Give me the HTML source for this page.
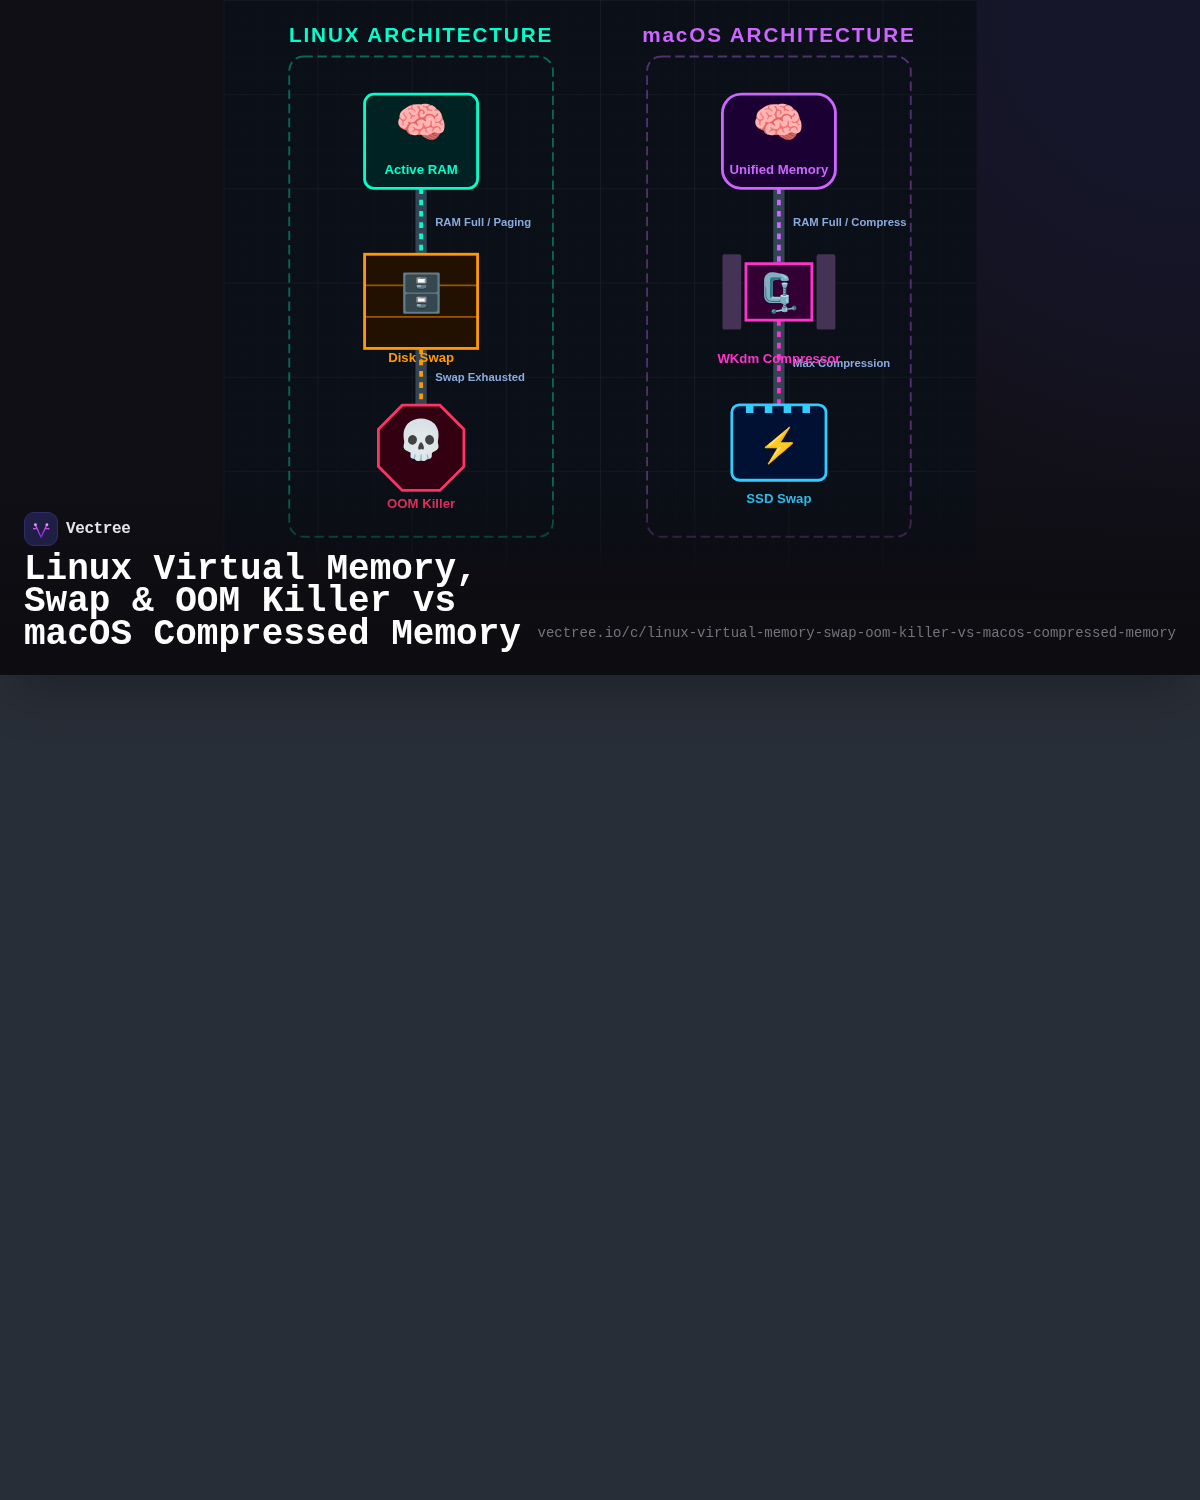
<!DOCTYPE html>
<html lang="en">
<head>
<meta charset="utf-8">
<title>Linux Virtual Memory, Swap &amp; OOM Killer vs macOS Compressed Memory</title>
<style>
html,body{margin:0;padding:0;}
body{width:1200px;height:1500px;background:#282e37;overflow:hidden;font-family:"Liberation Mono",monospace;}
.card{position:absolute;left:0;top:0;width:1200px;height:675px;overflow:hidden;background:#100f15;
  box-shadow:0 25px 50px -12px rgba(0,0,0,.25);}
.glow{position:absolute;inset:0;background:radial-gradient(circle 620px at 100% 0%,#16162a 0%,#16162a 26%,#151527 40%,#151425 50%,#13121e 66%,#111018 82%,#100f15 100%);}
.art{will-change:transform;position:absolute;left:223px;top:0;width:755px;height:565px;display:block;}
.fade{position:absolute;left:0;right:0;top:488px;height:187px;
  background:linear-gradient(to bottom,rgba(14,13,18,0) 0%,#0e0d12 60%,#0d0c11 100%);}
.brand{position:absolute;left:24px;top:512px;height:34px;display:flex;align-items:center;}
.logo{width:32px;height:32px;border-radius:10px;background:#1f1e45;border:1px solid #2e2d6c;position:relative;}
.logo svg{position:absolute;left:-1px;top:-1px;width:34px;height:34px;}
.brand span{margin-left:8px;font-weight:bold;font-size:16px;letter-spacing:-0.4px;color:#e4e4e7;}
h1{position:absolute;left:24px;top:554px;margin:0;font-size:36px;line-height:32.4px;font-weight:bold;color:#fff;white-space:nowrap;}
.url{position:absolute;right:24px;top:625px;font-size:14px;line-height:16px;color:#737379;white-space:nowrap;}
svg text{font-family:"Liberation Sans",sans-serif;font-weight:bold;}
</style>
</head>
<body>
<div class="card">
  <div class="glow"></div>
  <svg class="art" viewBox="-0.354 0 801.77 600" preserveAspectRatio="xMinYMin meet">
    <defs>
      <pattern id="sg" width="20" height="20" patternUnits="userSpaceOnUse"><path d="M20 0H0V20" fill="none" stroke="#10151f" stroke-width="0.6"/></pattern>
      <pattern id="bg" width="100" height="100" patternUnits="userSpaceOnUse"><rect width="100" height="100" fill="url(#sg)"/><path d="M100 0H0V100" fill="none" stroke="#1b212c" stroke-width="1.1"/></pattern>
<g id="e-brain"><path d="M614,-109 Q614,-109 633,-116 Q652,-123 677,-132.5 Q702,-142 721.5,-149 Q741,-156 742,-156 Q743,-156 764,-161 Q785,-166 816,-173.5 Q847,-181 877.5,-188.5 Q908,-196 928.5,-201 Q949,-206 949,-206 L1072,-162 Q1072,-162 1074.5,-147.5 Q1077,-133 1079,-115 Q1081,-97 1079,-86 Q1077,-76 1069.5,-56 Q1062,-36 1042,-10 Q1022,16 985,44 Q960,62 926,66 Q892,70 855,64 Q818,58 785,46 Q752,34 729,21 Q680,-7 655.5,-37 Q631,-67 622.5,-88 Q614,-109 614,-109 Z" fill="#E06767"/><path d="M1072,-62 Q1072,-62 1056.5,-63 Q1041,-64 1017,-70 Q994,-75 978,-82 Q962,-89 946,-84 Q931,-79 936.5,-70 Q942,-61 945,-59 Q957,-52 970.5,-47.5 Q984,-43 998,-40 Q1030,-33 1042.5,-30.5 Q1055,-28 1055,-28 Q1055,-28 1050,-21.5 Q1045,-15 1042,-11 Q1013,-14 984,-21 Q955,-28 930,-41 Q901,-55 874.5,-71 Q848,-87 826,-84 Q813,-82 818.5,-71 Q824,-60 836,-51 Q855,-38 876,-26 Q897,-14 918,-5 Q940,4 962,12 Q984,20 1007,26 Q998,33 989,40 Q989,40 972,34 Q955,28 928.5,18 Q902,8 875,-4 Q852,-15 828.5,-30.5 Q805,-46 786,-56.5 Q767,-67 757,-63 Q747,-58 749.5,-52 Q752,-46 753,-41 Q757,-31 777.5,-17.5 Q798,-4 820.5,7.5 Q843,19 853,24 Q901,46 929.5,52 Q958,58 958,58 Q958,58 940,62 Q922,66 909,67 Q899,67 872,56.5 Q845,46 816,31 Q772,8 751,-11 Q730,-30 716,-36 Q710,-38 704,-38.5 Q698,-39 692,-37 Q680,-31 682.5,-20.5 Q685,-10 685,-10 Q671,-22 653.5,-42.5 Q636,-63 627,-80 Q626,-80 622.5,-87.5 Q619,-95 616,-102 Q613,-109 614,-109 Q614,-109 633,-116 Q652,-123 677,-132.5 Q702,-142 721.5,-149 Q741,-156 742,-156 Q743,-156 764,-161 Q785,-166 816,-173.5 Q847,-181 877.5,-188.5 Q908,-196 928.5,-201 Q949,-206 949,-206 L1056,-168 Q1057,-146 1044,-130 Q1038,-123 1030,-117.5 Q1022,-112 1014,-108 Q1012,-107 1008,-105 Q1025,-98 1043.5,-91.5 Q1062,-85 1078,-80 Q1077,-77 1075.5,-72.5 Q1074,-68 1072,-62 Z" fill="#B05353"/><path d="M1144,-450 Q1144,-450 1154,-436 Q1164,-422 1176,-393 Q1188,-364 1194,-318 Q1198,-284 1196.5,-245 Q1195,-206 1183.5,-171 Q1172,-136 1146.5,-112 Q1121,-88 1078,-84 Q1056,-82 1033,-87 Q1010,-92 990,-102 Q982,-105 974.5,-108.5 Q967,-112 959,-114 Q945,-116 930,-109 Q915,-102 902,-98 Q890,-94 871,-81.5 Q852,-69 820,-57 Q788,-45 739,-44 Q689,-42 661.5,-47 Q634,-52 623,-57.5 Q612,-63 612,-63 Q612,-63 598,-62.5 Q584,-62 567.5,-60.5 Q551,-59 543,-56 Q506,-43 466,-44 Q426,-45 389,-59 Q350,-73 320,-99 Q305,-112 297.5,-130 Q290,-148 282,-166 Q277,-178 270,-178.5 Q263,-179 251,-180 Q189,-187 139,-228 Q105,-255 89.5,-297 Q74,-339 79.5,-383.5 Q85,-428 115,-462 Q115,-462 113.5,-481 Q112,-500 114,-526.5 Q116,-553 126,-574 Q139,-602 159.5,-624 Q180,-646 200,-661 Q220,-676 233.5,-683.5 Q247,-691 247,-691 Q298,-734 352,-756.5 Q406,-779 455.5,-786.5 Q505,-794 544.5,-793 Q584,-792 607.5,-788.5 Q631,-785 631,-785 Q631,-785 647,-791.5 Q663,-798 693.5,-803 Q724,-808 767,-802.5 Q810,-797 864,-773 Q864,-773 883.5,-766 Q903,-759 928,-747.5 Q953,-736 970,-722 Q997,-701 1006,-679 Q1015,-657 1015,-657 Q1015,-657 1029,-653.5 Q1043,-650 1063,-636 Q1083,-622 1101,-593 Q1121,-560 1130,-527 Q1139,-494 1141.5,-472 Q1144,-450 1144,-450 Z" fill="#FFB3B3"/><path d="M296,-271 L311,-284 Q311,-284 311,-276 Q311,-268 311,-260 Q311,-252 311,-250 Q311,-249 309,-236.5 Q307,-224 305,-208.5 Q303,-193 301.5,-181.5 Q300,-170 300,-170 Q300,-170 280.5,-166.5 Q261,-163 233,-170 Q210,-175 184.5,-191 Q159,-207 146,-216 Q143,-219 138.5,-224 Q134,-229 137,-232 Q137,-232 138.5,-234.5 Q140,-237 143,-235 Q153,-230 172,-220.5 Q191,-211 212,-205 Q233,-199 250,-206 Q260,-210 270,-225 Q280,-240 287,-254 Q294,-268 296,-271 Z" fill="#EA6363"/><path d="M630,-54 Q612,-68 608.5,-90.5 Q605,-113 615,-135.5 Q625,-158 647,-173 L514,-166 Q547,-159 556,-151 Q565,-143 566,-130 Q568,-118 565.5,-100 Q563,-82 553,-73 Q543,-64 526.5,-56 Q510,-48 510,-48 Q510,-48 522,-50 Q534,-52 550.5,-54 Q567,-56 582,-57 Q604,-57 617,-55.5 Q630,-54 630,-54 Z" fill="#F07371"/><path d="M1035,-336 Q1062,-340 1087,-356 Q1113,-372 1133,-397.5 Q1153,-423 1150,-456 Q1149,-470 1144.5,-483 Q1140,-496 1133,-508 Q1135,-469 1118.5,-434 Q1102,-399 1069,-378 Q1055,-370 1032.5,-364.5 Q1010,-359 986,-375 Q976,-381 967,-374 Q962,-369 962.5,-361 Q963,-353 969,-349 Q1000,-331 1035,-336 Z" fill="#F07371"/><path d="M1136,-292 Q1145,-292 1154,-295 Q1167,-297 1164.5,-310 Q1162,-323 1149,-322 Q1145,-322 1142,-319.5 Q1139,-317 1134,-317 Q1128,-316 1121.5,-320.5 Q1115,-325 1112,-329 Q1100,-345 1107,-363 Q1109,-367 1111.5,-372 Q1114,-377 1113,-382 Q1106,-384 1098.5,-382.5 Q1091,-381 1084,-379 Q1053,-366 1037,-337 Q1043,-336 1048.5,-338 Q1054,-340 1060,-341 Q1075,-342 1082,-327 Q1086,-319 1091,-312.5 Q1096,-306 1104,-301 Q1112,-296 1120,-294 Q1128,-292 1136,-292 Z" fill="#F07371"/><path d="M971,-640 Q1013,-645 1034.5,-639.5 Q1056,-634 1067,-624 Q1078,-614 1088,-605 Q1088,-605 1084,-615.5 Q1080,-626 1074,-633 Q1068,-640 1058.5,-649 Q1049,-658 1034,-664 Q997,-679 961,-666 Q955,-664 952.5,-658 Q950,-652 953,-646 Q958,-638 971,-640 Z" fill="#F07371"/><path d="M881,-658 Q891,-658 896,-650 Q901,-642 898,-635.5 Q895,-629 881,-630 Q867,-631 868,-631 Q869,-631 874.5,-630.5 Q880,-630 880,-630 Q856,-630 834,-638 Q825,-641 816,-644.5 Q807,-648 798,-639 Q796,-636 793.5,-632.5 Q791,-629 788,-626 Q780,-618 774,-624 Q770,-627 770.5,-632.5 Q771,-638 773,-643 Q779,-664 768,-684 Q758,-705 732.5,-715 Q707,-725 686,-728 Q674,-730 674,-743 Q675,-756 685.5,-756 Q696,-756 708.5,-751 Q721,-746 727,-744 Q736,-741 746.5,-740 Q757,-739 767,-743 Q780,-748 789,-756.5 Q798,-765 812,-769 Q824,-773 837.5,-773.5 Q851,-774 864,-773 Q883,-772 897.5,-764 Q912,-756 921,-748.5 Q930,-741 930,-741 Q916,-743 894,-747 Q872,-751 850,-750.5 Q828,-750 814.5,-740.5 Q801,-731 805,-706 Q808,-678 832,-668 Q856,-658 880,-658 Q880,-658 876,-658 Q872,-658 871.5,-658 Q871,-658 881,-658 Z" fill="#F07371"/><path d="M430,-689 Q441,-679 452.5,-674.5 Q464,-670 475,-660.5 Q486,-651 495,-626 Q498,-617 490,-612 L490,-612 Q480,-605 473,-616 Q458,-643 442.5,-652.5 Q427,-662 407,-667 Q388,-672 365.5,-668.5 Q343,-665 326,-658 Q315,-652 308,-663 L308,-663 Q305,-668 306.5,-674 Q308,-680 314,-683 Q344,-697 380,-695 Q385,-695 388,-698.5 Q391,-702 391,-707 Q387,-725 390.5,-742 Q394,-759 407,-769 Q423,-781 437.5,-783.5 Q452,-786 452,-786 Q430,-771 423,-751 Q416,-731 419,-713.5 Q422,-696 430,-689 Z" fill="#F07371"/><path d="M488,-520 Q492,-507 479,-502 Q470,-499 461.5,-496.5 Q453,-494 444,-494 Q436,-494 429,-494 Q422,-494 415,-487 Q408,-482 407.5,-475.5 Q407,-469 404,-461 Q402,-455 397.5,-448.5 Q393,-442 389,-436 Q384,-432 377.5,-432 Q371,-432 367,-438 L367,-438 Q360,-447 368,-456 Q382,-470 382.5,-489 Q383,-508 377,-523 Q371,-541 359.5,-555.5 Q348,-570 335,-574 Q327,-576 326,-585 L326,-585 Q325,-593 330.5,-597.5 Q336,-602 344,-600 Q361,-594 374,-583.5 Q387,-573 401,-539 Q412,-528 433,-526 Q454,-524 471,-529 Q484,-533 488,-520 Z" fill="#F07371"/><path d="M201,-393 Q228,-393 250.5,-405.5 Q273,-418 281,-439 Q287,-453 284.5,-468 Q282,-483 274,-497 Q268,-507 254.5,-519.5 Q241,-532 231.5,-546 Q222,-560 229,-575 Q230,-578 232,-581 Q234,-584 234,-587 Q236,-598 227,-596.5 Q218,-595 213,-592 Q204,-585 202,-571 Q199,-559 202.5,-545.5 Q206,-532 214,-524 Q223,-515 235,-503 Q247,-491 254,-477 Q261,-463 255,-449 Q250,-435 232,-427 Q214,-419 194,-421 Q186,-422 169.5,-429 Q153,-436 136.5,-459.5 Q120,-483 113,-534 Q113,-534 110,-511 Q107,-488 115,-462 Q122,-436 140.5,-416 Q159,-396 191,-393 Q196,-393 201,-393 Z" fill="#F07371"/><path d="M215,-398 Q215,-398 207.5,-402 Q200,-406 192,-410 Q184,-414 183,-415 Q179,-416 174,-415 Q169,-414 165,-413 Q162,-412 161,-411 Q160,-408 163,-404 Q174,-391 174.5,-377 Q175,-363 175,-347 Q175,-314 188,-285 Q190,-279 196.5,-277 Q203,-275 208,-279 Q218,-285 213,-296 Q197,-338 203,-359 Q209,-380 223,-388.5 Q237,-397 247,-403 Q247,-404 243.5,-405 Q240,-406 240,-407 Q241,-413 233,-413 Q227,-412 222.5,-409 Q218,-406 213,-404 Q202,-399 191,-400 Z" fill="#F07371"/><path d="M1027,-265 Q1071,-259 1090,-230 Q1109,-201 1108,-173 Q1108,-169 1103.5,-164 Q1099,-159 1092.5,-159.5 Q1086,-160 1080,-174 Q1074,-188 1068.5,-205.5 Q1063,-223 1048.5,-232.5 Q1034,-242 1002,-231 Q989,-227 976,-220 Q963,-213 954,-203 Q942,-190 934.5,-174.5 Q927,-159 913,-148 Q897,-136 883,-142 Q881,-143 880,-144 Q877,-148 883,-153 Q893,-164 901.5,-177.5 Q910,-191 908,-205 Q907,-210 905,-212 Q900,-219 885,-227 Q870,-235 861,-236 Q847,-236 833.5,-230.5 Q820,-225 807,-221 Q793,-217 777.5,-210.5 Q762,-204 759,-188 Q757,-179 759.5,-169.5 Q762,-160 766,-152 Q770,-144 775.5,-137 Q781,-130 786,-122 Q789,-117 789,-113 Q789,-106 781,-104 Q775,-103 767,-106 Q757,-111 750,-119.5 Q743,-128 739,-137 Q734,-147 731.5,-157.5 Q729,-168 726,-179 Q724,-184 722,-189 Q720,-194 716,-197 Q710,-202 702,-201.5 Q694,-201 687,-198 Q673,-193 659.5,-183.5 Q646,-174 630,-159 Q619,-148 606,-151.5 Q593,-155 577,-155 Q565,-155 557.5,-156.5 Q550,-158 535,-161 Q532,-162 522,-165.5 Q512,-169 502,-171.5 Q492,-174 488,-173 Q484,-172 479.5,-170 Q475,-168 471,-168 Q466,-167 461,-167 Q456,-167 456,-171 Q456,-173 457,-174.5 Q458,-176 458,-177 Q460,-183 462,-189 Q464,-195 452,-207 Q447,-211 443,-216 Q439,-221 438,-228 Q437,-235 443,-240 Q449,-245 456,-244 Q460,-243 462,-241 Q464,-239 464.5,-236.5 Q465,-234 467,-232 Q498,-206 529.5,-197.5 Q561,-189 586.5,-192 Q612,-195 624,-202 Q649,-215 663,-240 Q677,-265 673,-289 Q671,-297 665.5,-304 Q660,-311 660,-319 Q660,-326 665,-331 Q670,-334 678,-333 Q693,-332 698.5,-318 Q704,-304 707,-292 Q724,-258 755,-250 Q776,-245 798.5,-252.5 Q821,-260 837,-278 Q846,-287 851.5,-298 Q857,-309 861,-321 Q865,-334 863,-348 Q861,-362 858,-375 Q857,-379 856.5,-383.5 Q856,-388 859,-392 Q864,-400 874,-397 Q882,-394 886,-385 Q893,-370 893.5,-353.5 Q894,-337 891,-321 Q887,-305 887,-290.5 Q887,-276 897,-263 Q908,-248 924,-245 Q938,-242 948,-248 Q958,-254 969,-259 Q983,-264 998,-265 Q1013,-266 1027,-265 Z" fill="#F07371"/><path d="M434,-117 Q443,-116 447,-125 Q454,-141 471,-152 Q483,-161 500.5,-164.5 Q518,-168 530,-164 L525,-188 Q488,-199 455,-175 Q431,-159 422,-136 Q419,-129 422.5,-123 Q426,-117 434,-117 Z" fill="#F07371"/><path d="M1041,-549 Q1041,-547 1041,-543 Q1041,-533 1034.5,-524.5 Q1028,-516 1020,-510 Q1011,-504 1001.5,-500 Q992,-496 982,-492 Q979,-490 976,-488 Q973,-486 970,-484 Q966,-477 967,-469 Q968,-461 968,-453 Q969,-446 965,-437.5 Q961,-429 954,-431 Q947,-431 944,-438.5 Q941,-446 939,-453 Q932,-483 905.5,-502 Q879,-521 848,-525 Q828,-527 807.5,-522 Q787,-517 771,-505 Q752,-491 741.5,-465.5 Q731,-440 744,-418 Q747,-412 751.5,-405 Q756,-398 754,-391 Q751,-378 738,-378 Q734,-378 730,-380.5 Q726,-383 722,-385 Q709,-394 697,-403.5 Q685,-413 670,-418 Q659,-421 647.5,-422 Q636,-423 624,-420 Q580,-409 559,-394.5 Q538,-380 532.5,-367.5 Q527,-355 528,-350 Q529,-343 532.5,-336.5 Q536,-330 540,-323 Q543,-319 546.5,-314 Q550,-309 553,-305 Q555,-300 557.5,-295.5 Q560,-291 561,-286 Q562,-273 552,-270 Q546,-268 541,-271 Q536,-274 532,-278 Q516,-292 502,-305.5 Q488,-319 467,-327 Q448,-333 427,-333 Q406,-333 390,-320 Q362,-298 344,-265.5 Q326,-233 322,-198 Q318,-163 332,-135 Q341,-118 351,-100.5 Q361,-83 391,-64 Q395,-61 393,-57 Q391,-53 386,-54 Q372,-59 355.5,-67.5 Q339,-76 326,-89 Q297,-119 286.5,-139.5 Q276,-160 276,-183 Q276,-228 294,-267 Q300,-281 309.5,-293.5 Q319,-306 323.5,-319.5 Q328,-333 320,-349 Q317,-355 317,-358 Q317,-368 330,-369 Q335,-369 339.5,-367 Q344,-365 348,-364 Q395,-345 444,-360 Q470,-369 486,-385 Q502,-401 520,-420 Q531,-431 543.5,-439 Q556,-447 570,-453 Q570,-453 572,-454 Q578,-463 575,-474 Q572,-485 566,-494 Q561,-503 556,-513 Q551,-523 553,-533 Q544,-529 533,-529 Q528,-529 527,-532 Q527,-533 528,-536 Q531,-544 537,-549.5 Q543,-555 548,-562 Q560,-577 568,-596 Q576,-613 580,-632.5 Q584,-652 580,-671 Q575,-705 548,-723 Q537,-730 542,-741 Q545,-747 551,-749 Q557,-751 562,-747 Q577,-738 591.5,-720.5 Q606,-703 608,-685 Q608,-683 608,-680 Q608,-677 609,-675 Q611,-669 617,-667 Q623,-665 629,-665 Q656,-664 683.5,-647.5 Q711,-631 714,-601 Q716,-592 712,-579.5 Q708,-567 694,-555 Q689,-551 682.5,-552 Q676,-553 672,-558 Q666,-568 675,-576 Q680,-580 683.5,-586 Q687,-592 687,-598 Q685,-608 674.5,-619.5 Q664,-631 648,-634 Q623,-639 609.5,-623.5 Q596,-608 592,-583.5 Q588,-559 591,-534.5 Q594,-510 602,-496 Q610,-482 628.5,-477 Q647,-472 666.5,-474 Q686,-476 699,-483 Q712,-490 721,-501 Q730,-512 739,-524 Q763,-554 794,-561.5 Q825,-569 861,-559 Q875,-555 889,-549.5 Q903,-544 915,-536 Q927,-528 940,-520 Q953,-512 969,-514 Q984,-516 994,-528.5 Q1004,-541 1003,-556 Q1003,-557 1003,-559.5 Q1003,-562 1004,-563 Q1006,-572 1018,-572 Q1027,-572 1033,-565 Q1039,-558 1041,-549 Z" fill="#EA6363"/><path d="M533,-529 Q528,-529 527,-532 Q527,-533 528,-536 Q531,-544 537,-549.5 Q543,-555 548,-562 Q560,-577 568,-596 Q576,-613 579.5,-632.5 Q583,-652 580,-672 Q575,-705 547,-724 Q537,-730 542,-742 Q545,-747 551,-749 Q557,-751 562,-747 Q577,-738 591.5,-720.5 Q606,-703 608,-685 Q608,-683 608,-680.5 Q608,-678 609,-675 Q611,-670 617,-667.5 Q623,-665 629,-665 Q656,-664 683.5,-647.5 Q711,-631 714,-601 Q715,-592 711.5,-579.5 Q708,-567 694,-555 Q689,-551 682.5,-552 Q676,-553 672,-558 Q666,-568 675,-576 Q680,-581 683.5,-586.5 Q687,-592 686,-598 Q685,-608 674.5,-619.5 Q664,-631 648,-634 Q623,-639 609.5,-624 Q596,-609 591.5,-584 Q587,-559 590.5,-534.5 Q594,-510 602,-496 Q607,-488 620.5,-482 Q634,-476 644,-474 Q644,-474 631.5,-472.5 Q619,-471 604,-466 Q589,-462 580,-458 Q571,-454 571,-454 Q577,-466 573.5,-476.5 Q570,-487 566,-494 Q561,-503 555.5,-513 Q550,-523 553,-533 Q543,-529 533,-529 Z" fill="#F07371"/></g>
<path d="M738,-211 L536,-211 Q536,-211 541,-196 Q546,-181 546,-159 Q545,-141 538.5,-124.5 Q532,-108 532,-108 L742,-108 Q742,-108 735,-125.5 Q728,-143 729,-163 Q729,-185 733.5,-198 Q738,-211 738,-211 Z M751,-240 L751,-240 Q761,-240 768,-233 Q775,-226 775,-217 L775,-102 Q775,-92 768,-85 Q761,-78 751,-78 L524,-78 Q514,-78 507,-85 Q500,-92 500,-102 L500,-217 Q500,-226 507,-233 Q514,-240 524,-240 Z" id="ca0" fill="#263238"/><path d="M178.907,-861.706 L178.907,-270.606 L1092.647,-270.606 L1092.647,-861.706 Z" id="ca1"/><path d="M745,-224 L530,-224 Q530,-224 536.5,-207.5 Q543,-191 543,-173 Q543,-154 536.5,-137.5 Q530,-121 530,-121 L745,-121 Q745,-121 738,-139 Q731,-157 731,-176 Q731,-196 738,-210 Q745,-224 745,-224 Z M751,-254 L751,-254 Q761,-254 768,-247 Q775,-240 775,-230 L775,-115 Q775,-105 768,-98.5 Q761,-92 751,-92 L524,-92 Q514,-92 507,-98.5 Q500,-105 500,-115 L500,-230 Q500,-240 507,-247 Q514,-254 524,-254 Z" id="ca2" fill="#9E9E9E"/><path d="M1029,-365 Q1047,-365 1060,-378.5 Q1073,-392 1073,-410 L1073,-810 Q1073,-828 1060,-841 Q1047,-854 1029,-854 L246,-854 Q228,-854 215,-841 Q202,-828 202,-810 L202,-410 Q202,-391 215,-378 Q228,-365 246,-365 Z" id="ca3" fill="#37474F"/><path d="M528,-248 Q521,-248 521,-240 Q521,-233 528,-233 L605,-233 Q612,-233 612,-240 Q612,-248 605,-248 Z" id="ca4" fill="#C9E3E6"/><path d="M587,-13 Q614,-16 621,-20 Q628,-24 628,-29 Q628,-33 619,-36.5 Q610,-40 573,-40 Q565,-40 552,-40 Q539,-40 528,-38 Q517,-36 515,-28 Q513,-17 520.5,-14 Q528,-11 531,-11 Q559,-11 587,-13 Z" id="ca5" fill="#C9E3E6"/><path d="M699,50 Q730,50 752.5,27.5 Q775,5 775,-26 L775,-31 Q775,-38 769.5,-43.5 Q764,-49 756,-49 L519,-49 Q511,-49 505.5,-43.5 Q500,-38 500,-31 L500,-26 Q500,5 522.5,27.5 Q545,50 576,50 Z" id="ca6" fill="#607D8B"/><path d="M707,74 Q733,74 753.5,56.5 Q774,39 780.5,13.5 Q787,-12 771,-36 Q770,-37 748,-37.5 Q726,-38 693,-38.5 Q660,-39 625,-39.5 Q590,-40 562.5,-40 Q535,-40 525,-40 Q517,-40 512,-27.5 Q507,-15 507,-7 L507,-1 Q507,30 528.5,52 Q550,74 581,74 Q581,74 599.5,74 Q618,74 642,74 Q666,74 685.5,74 Q705,74 707,74 Z" id="ca7" fill="#263238"/><g id="e-cabinet"><path d="M173,-913 L1102,-913 Q1115,-913 1124.5,-903 Q1134,-893 1134,-880 L1134,-394 L1134,-306 L1134,180 Q1134,193 1124.5,202.5 Q1115,212 1102,212 L173,212 Q160,212 150.5,202.5 Q141,193 141,180 L141,-306 L141,-394 L141,-880 Q141,-893 150.5,-903 Q160,-913 173,-913 Z" fill="#607D8B"/><use href="#ca3"/><use href="#ca3" y="519.938"/><use href="#ca1" x="479.233" y="-45.739" transform="matrix(0.248 0 0 0.219 360.24 -35.718)" fill="#FAFAFA"/><use href="#ca0"/><use href="#ca2"/><use href="#ca4"/><use href="#ca7"/><use href="#ca6"/><use href="#ca5"/><use href="#ca1" x="479.233" y="-565.676" transform="matrix(0.248 0 0 0.219 360.24 -441.736)" fill="#FAFAFA"/><use href="#ca0" y="-519.938"/><use href="#ca2" y="-519.938"/><use href="#ca4" y="-519.938"/><use href="#ca7" y="-519.938"/><use href="#ca6" y="-519.938"/><use href="#ca5" y="-519.938"/></g>
<radialGradient id="sk0" cx="690" cy="-248" r="660" gradientUnits="userSpaceOnUse" gradientTransform="matrix(0.923 0 0 1 0 0)"><stop offset="0.396" stop-color="#E1E7EA"/><stop offset="0.993" stop-color="#D6E1E6"/></radialGradient><path d="M562,-137 Q562,-104 573.5,-95 Q585,-86 600,-90.5 Q615,-95 626.5,-102.5 Q638,-110 638,-110 Q638,-110 649,-103 Q660,-96 675,-92 Q690,-88 701.5,-96.5 Q713,-105 713,-137 Q713,-153 707,-177 Q701,-201 690.5,-225 Q680,-249 666.5,-265.5 Q653,-282 638,-282 Q622,-282 608.5,-265.5 Q595,-249 584.5,-225 Q574,-201 568,-177 Q562,-153 562,-137 Z" id="sk1" fill="#424242"/><path d="M437,160 Q441,161 446,162 Q448,162 462,163 Q476,164 476,161 Q476,161 478.5,147 Q481,133 484.5,114.5 Q488,96 491,79.5 Q494,63 495,58 Q496,47 494,40.5 Q492,34 482,32 Q474,31 469,37 Q464,43 462,51 Q459,63 456,75 Q453,87 451,98 Q448,112 445.5,122.5 Q443,133 429,140 Q423,143 417.5,144.5 Q412,146 406,148 Q413,153 421,156 Q429,159 437,160 Z" id="sk2" fill="#8ABFD1"/><g id="e-skull"><path d="M1086,-316 Q1082,-298 1086.5,-272.5 Q1091,-247 1096.5,-219.5 Q1102,-192 1101,-168 Q1100,-134 1079.5,-108.5 Q1059,-83 1022,-61 Q1003,-50 983.5,-41 Q964,-32 948,-18 Q932,-4 925,19 Q920,40 923.5,62 Q927,84 918,104 Q902,140 871.5,152 Q841,164 817,163 Q800,161 789,175 Q766,203 732,210 Q710,215 689,209.5 Q668,204 654,196 Q638,188 622,196 Q608,204 587,209.5 Q566,215 544,210 Q532,208 520.5,202.5 Q509,197 499,191 Q488,184 481.5,172 Q475,160 478,159 Q459,164 440,159.5 Q421,155 404,147 Q390,140 378,130.5 Q366,121 360,107 Q354,93 356,74.5 Q358,56 360.5,36.5 Q363,17 359.5,1.5 Q356,-14 340,-22 Q313,-34 285,-44.5 Q257,-55 232,-71 Q202,-91 186.5,-118.5 Q171,-146 174,-181 Q177,-214 186,-249 Q195,-284 190,-316 Q187,-332 181,-372 Q175,-412 173.5,-465 Q172,-518 182,-574 Q189,-610 205,-650 Q221,-690 243,-726 Q265,-762 289,-785 Q361,-853 451.5,-883 Q542,-913 634,-913 Q726,-913 820,-883 Q914,-853 986,-785 Q1011,-762 1033,-726 Q1055,-690 1070.5,-650 Q1086,-610 1093,-574 Q1103,-518 1101.5,-465 Q1100,-412 1094,-372 Q1088,-332 1086,-316 Z" fill="url(#sk0)"/><path d="M444,-473 Q413,-481 383,-471.5 Q353,-462 330,-437.5 Q307,-413 298,-379 Q289,-345 296.5,-312.5 Q304,-280 325,-256.5 Q346,-233 378,-224 Q409,-216 439,-226 Q469,-236 492,-260 Q515,-284 524,-318 Q533,-353 525.5,-385 Q518,-417 496.5,-441 Q475,-465 444,-473 Z" fill="#424242"/><path d="M977,-379 Q968,-413 945.5,-437.5 Q923,-462 892.5,-471.5 Q862,-481 831,-473 Q800,-465 778.5,-441 Q757,-417 749.5,-385 Q742,-353 751,-318 Q760,-284 783,-260 Q806,-236 836,-226 Q866,-216 898,-224 Q929,-233 950,-256.5 Q971,-280 979,-312.5 Q987,-345 977,-379 Z" fill="#424242"/><use href="#sk1"/><use href="#sk2"/><use href="#sk2" x="1281.281" transform="matrix(-1 0 0 1 2562.562 0)"/><path d="M595,207 Q595,207 608.5,201.5 Q622,196 638,196 Q650,195 661.5,199.5 Q673,204 680,207 Q680,207 674.5,198.5 Q669,190 663,178.5 Q657,167 657,157 Q657,135 656.5,109.5 Q656,84 655.5,66.5 Q655,49 655,48 Q655,30 638,30 Q620,30 620,49 Q620,70 619,101.5 Q618,133 617,159 Q617,169 611.5,180 Q606,191 600.5,199 Q595,207 595,207 Z" fill="#8ABFD1"/></g>
<path d="M882,142 Q882,132 859.5,124.5 Q837,117 805,117 Q773,117 750.5,124.5 Q728,132 728,142 Q728,152 750.5,159.5 Q773,167 805,167 Q837,167 859.5,159.5 Q882,152 882,142 Z" id="cl0"/><path d="M764,-184 Q772,-179 791.5,-180.5 Q811,-182 828.5,-185.5 Q846,-189 846,-189 Q846,-184 846,-159.5 Q846,-135 846,-102 Q846,-69 846,-37 Q846,-5 846,16 Q846,37 846,38 Q846,44 834,48 Q822,52 805,52 Q789,52 777,47.5 Q765,43 764,38 Q764,38 764,27 Q764,16 764,16 Q764,16 772.5,23 Q781,30 797,36 Q807,40 820.5,37 Q834,34 834,22 L834,22 Q834,6 820,2 Q808,-1 793,-7.5 Q778,-14 764,-26 L764,-53 Q774,-45 785.5,-38 Q797,-31 804,-28 Q815,-23 824.5,-29.5 Q834,-36 834,-47 L834,-48 Q834,-63 820,-67 Q808,-70 793,-76.5 Q778,-83 764,-95 L764,-118 Q774,-111 785.5,-106 Q797,-101 804,-97 Q815,-92 824.5,-98.5 Q834,-105 834,-116 L834,-117 Q834,-132 820,-136 Q807,-139 792.5,-145.5 Q778,-152 764,-164 Z" id="cl1" fill="#2F7889"/><path d="M1199,-350 Q1199,-466 1155.5,-568 Q1112,-670 1034.5,-747.5 Q957,-825 855,-869 Q753,-913 637,-913 Q520,-913 418,-869 Q316,-825 239,-747.5 Q162,-670 118,-568 Q74,-466 74,-350 Q74,-234 118,-132 Q162,-30 239,47.5 Q316,125 418,168.5 Q520,212 637,212 Q753,212 855,168.5 Q957,125 1034.5,47.5 Q1112,-30 1155.5,-132 Q1199,-234 1199,-350 Z" id="cl2"/><path d="M178.907,-861.706 L178.907,-270.606 L1092.647,-270.606 L1092.647,-861.706 Z" id="cl3"/><path d="M846,38 L846,38 L846,-196 L764,-196 L764,38 Q764,38 771,45 Q778,52 805,52 Q832,52 839,45 Q846,38 846,38 Z" id="cl4"/><path d="M783,81 Q773,82 768,90 Q762,98 764,108 Q765,117 773,123 Q781,129 791,127 L1045,84 Q1055,82 1060,74 Q1066,66 1064,57 Q1063,47 1055,42 Q1047,36 1037,38 Z" id="cl5"/><g id="e-clamp"><use href="#cl2" x="987.389" y="94.979" transform="matrix(0.116 0 0 0.116 872.852 83.961)" fill="#2F7889"/><path d="M482,-296 Q482,-278 494.5,-265.5 Q507,-253 525,-253 L879,-253 L879,-79 L453,-79 Q397,-79 350.5,-102.5 Q304,-126 276,-172 Q248,-218 248,-284 L248,-710 Q248,-764 274.5,-809 Q301,-854 345,-882.5 Q389,-911 443,-915 Q460,-916 503.5,-915 Q547,-914 624,-898 Q680,-887 735,-873.5 Q790,-860 843,-838 Q888,-819 904,-779.5 Q920,-740 920,-703 L690,-706 Q690,-706 690,-717 Q690,-728 693,-737 L525,-703 Q506,-699 494,-688.5 Q482,-678 482,-660 Z" fill="#82AEC0"/><path d="M920,-706 Q920,-717 886.5,-724.5 Q853,-732 805,-732 Q758,-732 724.5,-724.5 Q691,-717 691,-706 Q691,-695 724.5,-687.5 Q758,-680 805,-680 Q853,-680 886.5,-687.5 Q920,-695 920,-706 Z" fill="#82AEC0"/><path d="M872,-761 Q871,-775 864.5,-786.5 Q858,-798 837,-810.5 Q816,-823 771,-839 Q754,-846 741.5,-849.5 Q729,-853 711,-858 Q693,-863 678,-863 Q663,-863 662,-859 Q662,-858 675.5,-851 Q689,-844 709,-834 Q729,-824 748.5,-813 Q768,-802 780,-792 Q785,-787 793,-776.5 Q801,-766 809.5,-755.5 Q818,-745 824,-742 Q843,-730 858,-739 Q873,-748 872,-761 Z" fill="#94D1E0"/><path d="M691,-199 Q691,-199 670.5,-199 Q650,-199 619.5,-199.5 Q589,-200 557.5,-200.5 Q526,-201 502,-201 Q478,-201 472,-201 Q470,-201 457,-201.5 Q444,-202 435,-205 Q426,-208 437,-216 Q449,-225 465,-232.5 Q481,-240 488,-242 Q490,-242 511.5,-242.5 Q533,-243 562.5,-242.5 Q592,-242 621.5,-242 Q651,-242 671,-241.5 Q691,-241 691,-241 Z" fill="#94D1E0"/><path d="M482,-297 Q482,-291 483.5,-283.5 Q485,-276 482,-270 Q477,-261 466,-250.5 Q455,-240 442.5,-233.5 Q430,-227 420.5,-229 Q411,-231 409,-247 Q409,-251 408,-285 Q407,-319 407,-370 Q407,-421 406.5,-478.5 Q406,-536 406.5,-589 Q407,-642 408,-679 Q409,-716 411,-726 Q417,-756 430.5,-765 Q444,-774 449,-775 Q471,-781 513.5,-781 Q556,-781 602.5,-779.5 Q649,-778 683,-778 Q685,-778 694,-777.5 Q703,-777 712,-776 Q721,-775 722,-774 Q723,-772 721.5,-770 Q720,-768 719,-766 Q702,-741 696.5,-722 Q691,-703 691,-703 Q686,-717 688,-727 Q690,-737 684,-735 L525,-704 Q506,-699 494,-688.5 Q482,-678 482,-661 Z" fill="#2F7889"/><path d="M699,-112 Q699,-112 678.5,-111.5 Q658,-111 625,-110 Q592,-109 555.5,-109 Q519,-109 485.5,-110 Q452,-111 432,-113 Q397,-118 363.5,-137 Q330,-156 308,-192 Q286,-228 284,-285 Q282,-334 281,-390 Q280,-446 282,-482 Q283,-513 290,-530 Q297,-547 298,-540 Q298,-540 299,-516 Q300,-492 301.5,-455.5 Q303,-419 304.5,-382.5 Q306,-346 307.5,-319 Q309,-292 309,-288 Q313,-239 332,-207 Q351,-175 378,-159 Q405,-143 434,-141 Q463,-139 499.5,-137.5 Q536,-136 568,-135.5 Q600,-135 615,-136 Q645,-138 662,-149 Q679,-160 686.5,-170.5 Q694,-181 694,-181 Z" fill="#2F7889"/><use href="#cl5" fill="#84B0C1"/><use href="#cl0" fill="#82AEC0"/><path d="M882,142 Q882,130 882,117 Q882,104 882,92 Q882,75 882.5,55 Q883,35 865,25 Q850,16 831.5,13.5 Q813,11 796,12 Q786,12 776,13 Q766,14 757,17 Q731,27 729.5,43.5 Q728,60 728,82 Q728,97 728,112 Q728,127 728,142 Z" fill="#82AEC0"/><use href="#cl5" x="-282.562" y="48.094" fill="#94D1E0"/><path d="M827,79 Q827,73 831,72.5 Q835,72 844,69 Q853,66 868,55 Q873,51 873,66 Q873,81 871,100 Q869,119 867,126 Q864,138 852,144 Q840,150 834,141 Q831,136 829.5,122 Q828,108 827.5,94.5 Q827,81 827,79 Z" fill="#94D1E0"/><use href="#cl2" x="441.576" y="189.385" transform="matrix(0.116 0 0 0.116 390.353 167.416)" fill="#2F7889"/><path d="M915,79 Q907,72 894.5,68 Q882,64 882,64 L881,112 L934,103 Q934,103 931,97 Q928,91 915,79 Z" fill="#2F7889"/><use href="#cl4" fill="#84B0C1"/><use href="#cl1"/><use href="#cl0" x="-393.801" y="-306.453" transform="matrix(1.49 0 0 1.49 192.962 150.162)" fill="#82AEC0"/><use href="#cl3" x="645.859" y="-15.247" transform="matrix(0.25 0 0 0.304 484.265 -10.607)" fill="#82AEC0"/><use href="#cl0" x="-393.801" y="-489.172" transform="matrix(1.49 0 0 1.49 192.962 239.694)" fill="#B9E4EA"/><path d="M846,-207 Q848,-212 857.5,-218 Q867,-224 878,-226.5 Q889,-229 895,-224 Q899,-220 899.5,-202.5 Q900,-185 898.5,-164.5 Q897,-144 895,-129 Q893,-114 893,-114 Q893,-110 889,-101 Q885,-92 872,-91 Q867,-90 860,-91 Q853,-92 851,-101 Q849,-106 847.5,-120.5 Q846,-135 844.5,-153.5 Q843,-172 843,-187 Q843,-202 846,-207 Z" fill="#94D1E0"/><use href="#cl4" y="-324.375" fill="#82AEC0"/><use href="#cl1" y="-324.375"/><path d="M805,-615 Q805,-615 817.5,-614.5 Q830,-614 846,-614 Q862,-614 874.5,-614 Q887,-614 887,-614 Q887,-599 877.5,-567.5 Q868,-536 854,-512 Q851,-507 836.5,-502 Q822,-497 805,-497 Q788,-497 773.5,-502 Q759,-507 756,-512 Q743,-536 733.5,-567.5 Q724,-599 724,-614 Q724,-614 736,-614 Q748,-614 764,-614 Q780,-614 792.5,-614.5 Q805,-615 805,-615 Z" fill="#82AEC0"/><use href="#cl0" x="-50.868" y="-765.493" transform="matrix(1.064 0 0 1.064 3.256 48.992)" fill="#B9E4EA"/><path d="M468,135 Q471,116 481.5,110 Q492,104 498,103 Q504,103 509,107 Q514,111 514,116 Q514,123 510,128 Q497,141 492.5,153.5 Q488,166 482,166 Q476,166 470,160 Q464,154 468,135 Z" fill="#82AEC0"/></g>
<g id="e-bolt"><path d="M691,-443 L729,-369 Q729,-369 749,-375 Q769,-381 801,-390 Q833,-399 869.5,-409 Q906,-419 940.5,-428 Q975,-437 1000.5,-442.5 Q1026,-448 1035,-448 Q1052,-448 1057.5,-440.5 Q1063,-433 1061.5,-423.5 Q1060,-414 1056,-408 Q1050,-401 1016.5,-370.5 Q983,-340 930.5,-294 Q878,-248 814,-192.5 Q750,-137 682.5,-79.5 Q615,-22 552,31.5 Q489,85 438,128 Q387,171 356.5,197 Q326,223 324,224 Q314,230 304.5,226.5 Q295,223 295,214 Q295,211 304,197 Q313,183 326.5,164 Q340,145 353,126.5 Q366,108 375,95.5 Q384,83 384,83 L587,-236 Q587,-236 587.5,-244.5 Q588,-253 584.5,-261 Q581,-269 569,-268 Q565,-268 538.5,-268 Q512,-268 473.5,-267.5 Q435,-267 392.5,-267 Q350,-267 312,-266.5 Q274,-266 250,-266 Q226,-266 224,-266 Q219,-266 211.5,-268.5 Q204,-271 201,-282 Q199,-294 208.5,-302 Q218,-310 218,-310 L519,-488 Q519,-488 542,-511.5 Q565,-535 603,-573.5 Q641,-612 686.5,-658 Q732,-704 778.5,-750 Q825,-796 864.5,-834.5 Q904,-873 929.5,-896.5 Q955,-920 959,-920 Q972,-920 972.5,-909 Q973,-898 969,-889 Q967,-887 951.5,-861.5 Q936,-836 911,-796.5 Q886,-757 856.5,-709.5 Q827,-662 798,-615.5 Q769,-569 744.5,-530 Q720,-491 705.5,-467 Q691,-443 691,-443 Z" fill="#FEB804"/><path d="M643,-478 Q645,-480 663.5,-505.5 Q682,-531 711.5,-570.5 Q741,-610 775,-656.5 Q809,-703 842.5,-749.5 Q876,-796 903.5,-834.5 Q931,-873 946.5,-896.5 Q962,-920 959,-920 Q956,-920 934,-903 Q912,-886 876.5,-857 Q841,-828 798,-792.5 Q755,-757 710.5,-720 Q666,-683 625.5,-649 Q585,-615 554.5,-590 Q524,-565 510,-554 Q491,-538 455.5,-509 Q420,-480 379.5,-446 Q339,-412 302,-381 Q265,-350 241.5,-330 Q218,-310 218,-310 Q218,-310 242,-310.5 Q266,-311 304,-312 Q342,-313 385.5,-314 Q429,-315 469.5,-316 Q510,-317 538.5,-318 Q567,-319 575,-319 Q589,-319 591.5,-310 Q594,-301 590.5,-291 Q587,-281 585,-277 Q577,-266 565,-246 Q563,-242 546,-213.5 Q529,-185 502.5,-141.5 Q476,-98 446.5,-48.5 Q417,1 390,46.5 Q363,92 343.5,125 Q324,158 318,167 Q300,197 297.5,205 Q295,213 296,213 Q301,215 311.5,206 Q322,197 335,184 Q340,180 362,160 Q384,140 418,110 Q452,80 491.5,45 Q531,10 570,-25 Q609,-60 641.5,-89 Q674,-118 694,-136 Q714,-154 746.5,-183.5 Q779,-213 817.5,-248.5 Q856,-284 894,-319 Q932,-354 964,-383 Q996,-412 1015.5,-430 Q1035,-448 1035,-448 Q1035,-448 1008,-448 Q981,-448 939,-447.5 Q897,-447 849,-446.5 Q801,-446 757.5,-446 Q714,-446 684.5,-446 Q655,-446 651,-446 Q637,-447 637,-458 Q637,-469 643,-478 Z" fill="#FFC927"/><path d="M632,-287 Q628,-280 612.5,-257 Q597,-234 575,-200.5 Q553,-167 529.5,-130.5 Q506,-94 484.5,-61.5 Q463,-29 448.5,-6.5 Q434,16 431,21 Q421,40 431.5,44.5 Q442,49 452,36 Q454,34 469,14 Q484,-6 507,-36.5 Q530,-67 556,-102 Q582,-137 606.5,-169.5 Q631,-202 649,-226.5 Q667,-251 674,-259 Q686,-276 686,-288.5 Q686,-301 676,-307 Q668,-311 656.5,-308 Q645,-305 632,-287 Z" fill="#FFE567"/><path d="M364,-336 Q376,-344 402,-368 Q428,-392 459,-422.5 Q490,-453 518,-480.5 Q546,-508 561,-522 Q580,-540 609,-568 Q638,-596 667,-625 Q696,-654 717.5,-676 Q739,-698 743,-703 Q751,-714 745,-721 Q739,-728 726,-718 Q722,-715 702,-698 Q682,-681 654.5,-657 Q627,-633 598.5,-608 Q570,-583 547,-563.5 Q524,-544 516,-537 Q507,-530 487,-513 Q467,-496 442,-474.5 Q417,-453 392,-432 Q367,-411 348.5,-394.5 Q330,-378 323,-370 Q312,-359 316.5,-346.5 Q321,-334 334.5,-329.5 Q348,-325 364,-336 Z" fill="#FFE567"/></g>
    </defs>
    <rect width="800" height="600" fill="#0b0f17"/>
    <rect width="800" height="600" fill="url(#bg)"/>
    <!-- titles -->
    <text x="210" y="45" text-anchor="middle" font-size="22" letter-spacing="2" fill="#00ffcc">LINUX ARCHITECTURE</text>
    <text x="590" y="45" text-anchor="middle" font-size="22" letter-spacing="2" fill="#cc66ff">macOS ARCHITECTURE</text>
    <!-- containers -->
    <rect x="70" y="60" width="280" height="510" rx="15" fill="none" stroke="#00ffcc" stroke-opacity=".37" stroke-width="2" stroke-dasharray="10 5"/>
    <rect x="450" y="60" width="280" height="510" rx="15" fill="none" stroke="#cc66ff" stroke-opacity=".37" stroke-width="2" stroke-dasharray="10 5"/>
    <!-- LINUX connectors -->
    <line x1="210" y1="200" x2="210" y2="270" stroke="#334455" stroke-width="12"/>
    <line x1="210" y1="200" x2="210" y2="270" stroke="#00ffcc" stroke-width="4" stroke-dasharray="6 6"/>
    <line x1="210" y1="370" x2="210" y2="430" stroke="#334455" stroke-width="12"/>
    <line x1="210" y1="370" x2="210" y2="430" stroke="#ff9900" stroke-width="4" stroke-dasharray="6 6"/>
    <text x="225" y="240" font-size="12" fill="#88aadd">RAM Full / Paging</text>
    <text x="225" y="405" font-size="12" fill="#88aadd">Swap Exhausted</text>
    <!-- Active RAM -->
    <rect x="150" y="100" width="120" height="100" rx="10" fill="#002222" stroke="#00ffcc" stroke-width="3"/>
    <text x="210" y="185" text-anchor="middle" font-size="14" fill="#00ffcc">Active RAM</text>
    <use class="emo-svg" href="#e-brain" transform="translate(182.38 145.7) scale(0.04395)"/><text class="emo" style="display:none" x="210.4" y="145.7" text-anchor="middle" font-size="45">🧠</text>
    <!-- Disk Swap -->
    <rect x="150" y="270" width="120" height="100" fill="#221100" stroke="#ff9900" stroke-width="3"/>
    <line x1="150" y1="303" x2="270" y2="303" stroke="#ff9900" stroke-opacity=".52" stroke-width="2"/>
    <line x1="150" y1="336.5" x2="270" y2="336.5" stroke="#ff9900" stroke-opacity=".52" stroke-width="2"/>
    <use class="emo-svg" href="#e-cabinet" transform="translate(185.50 325.2) scale(0.03906)"/><text class="emo" style="display:none" x="210.4" y="325.2" text-anchor="middle" font-size="40">🗄️</text>
    <text x="210" y="384.5" text-anchor="middle" font-size="14" fill="#ff9900">Disk Swap</text>
    <!-- OOM -->
    <polygon points="190,430.3 230,430.3 255.5,455.8 255.5,495.4 230,520.8 190,520.8 164.7,495.4 164.7,455.8" fill="#330011" stroke="#ff3366" stroke-width="3"/>
    <use class="emo-svg" href="#e-skull" transform="translate(184.88 481) scale(0.04004)"/><text class="emo" style="display:none" x="210.4" y="481" text-anchor="middle" font-size="41">💀</text>
    <text x="210" y="540" text-anchor="middle" font-size="14" fill="#ff3366">OOM Killer</text>

    <!-- macOS connectors -->
    <line x1="590" y1="200" x2="590" y2="280" stroke="#334455" stroke-width="12"/>
    <line x1="590" y1="200" x2="590" y2="280" stroke="#cc66ff" stroke-width="4" stroke-dasharray="6 6"/>
    <line x1="590" y1="340" x2="590" y2="430" stroke="#334455" stroke-width="12"/>
    <line x1="590" y1="340" x2="590" y2="430" stroke="#ff33cc" stroke-width="4" stroke-dasharray="6 6"/>
    <text x="605" y="240" font-size="12" fill="#88aadd">RAM Full / Compress</text>
    <text x="605" y="390" font-size="12" fill="#88aadd">Max Compression</text>
    <!-- Unified -->
    <rect x="530" y="100" width="120" height="100" rx="20" fill="#1a0033" stroke="#cc66ff" stroke-width="3"/>
    <text x="590" y="185" text-anchor="middle" font-size="14" fill="#cc66ff">Unified Memory</text>
    <use class="emo-svg" href="#e-brain" transform="translate(561.98 145.7) scale(0.04395)"/><text class="emo" style="display:none" x="590" y="145.7" text-anchor="middle" font-size="45">🧠</text>
    <!-- compressor -->
    <rect x="530" y="270" width="20" height="80" rx="2" fill="#443355"/>
    <rect x="630" y="270" width="20" height="80" rx="2" fill="#443355"/>
    <rect x="555" y="280" width="70" height="60" fill="#330033" stroke="#ff33cc" stroke-width="3"/>
    <use class="emo-svg" href="#e-clamp" transform="translate(565.10 325.2) scale(0.03906)"/><text class="emo" style="display:none" x="590" y="325.2" text-anchor="middle" font-size="40">🗜️</text>
    <text x="590" y="385" text-anchor="middle" font-size="14" fill="#ff33cc">WKdm Compressor</text>
    <!-- SSD -->
    <rect x="540" y="430" width="100" height="80" rx="8" fill="#001133" stroke="#33ccff" stroke-width="3"/>
    <rect x="555" y="430" width="8" height="8.6" fill="#33ccff"/><rect x="575" y="430" width="8" height="8.6" fill="#33ccff"/><rect x="595" y="430" width="8" height="8.6" fill="#33ccff"/><rect x="615" y="430" width="8" height="8.6" fill="#33ccff"/>
    <use class="emo-svg" href="#e-bolt" transform="translate(568.09 484.9) scale(0.03516)"/><text class="emo" style="display:none" x="590.5" y="484.9" text-anchor="middle" font-size="36">⚡</text>
    <text x="590" y="534.6" text-anchor="middle" font-size="14" fill="#33ccff">SSD Swap</text>
  </svg>
  <div class="fade"></div>
  <div class="brand"><div class="logo"><svg viewBox="0 0 34 34"><defs><linearGradient id="lg" x1="0" y1="12" x2="0" y2="26" gradientUnits="userSpaceOnUse"><stop offset="0" stop-color="#e060f8"/><stop offset="1" stop-color="#7a22c8"/></linearGradient></defs><path d="M11.4 12.8L17 25.2L22.9 12.8M13.1 16.6H10M21.2 16.6H24.4" fill="none" stroke="url(#lg)" stroke-width="1.35" stroke-linecap="round" stroke-linejoin="round"/><circle cx="9.9" cy="16.6" r="0.95" fill="#cf52f0"/><circle cx="24.5" cy="16.6" r="0.95" fill="#cf52f0"/><circle cx="11.4" cy="12.8" r="1.45" fill="#dc98ee"/><circle cx="22.9" cy="12.8" r="1.45" fill="#dc98ee"/></svg></div><span>Vectree</span></div>
  <h1>Linux Virtual Memory,<br>Swap &amp; OOM Killer vs<br>macOS Compressed Memory</h1>
  <div class="url">vectree.io/c/linux-virtual-memory-swap-oom-killer-vs-macos-compressed-memory</div>
</div>
<script>
(function(){try{
var c=document.createElement('canvas');c.width=c.height=48;
var g=c.getContext('2d',{willReadFrequently:true});
var T=document.querySelectorAll('text.emo');
for(var i=0;i<T.length;i++){var t=T[i];
g.clearRect(0,0,48,48);g.font='bold 28px "Liberation Sans", sans-serif';g.fillStyle='#000';
g.fillText(t.textContent,4,34);
var d=g.getImageData(0,0,48,48).data,n=0;
for(var k=0;k<d.length;k+=4){if(d[k+3]>100&&(d[k]>110||d[k+1]>110||d[k+2]>110))n++;}
if(n>80){t.style.display='inline';var u=t.previousElementSibling;if(u)u.style.display='none';}
}}catch(e){}})();
</script>
</body>
</html>
